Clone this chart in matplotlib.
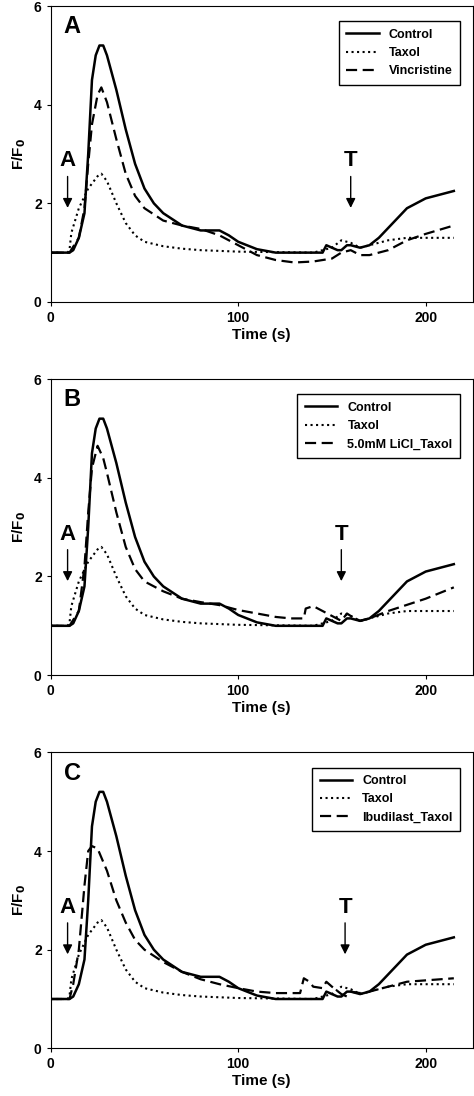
import numpy as np
import matplotlib.pyplot as plt

plt.rcParams['font.family'] = ['Liberation Sans', 'DejaVu Sans']
plt.rcParams['font.weight'] = 'bold'

# control trace, same in all panels
ctrl_t = [0, 10, 12, 15, 18, 20, 22, 24, 26, 28, 30, 35, 40, 45, 50, 55, 60, 70, 80, 90,
          95, 100, 110, 120, 130, 140, 145, 147, 150, 153, 155, 158, 160, 165, 170, 175,
          180, 190, 200, 210, 215]
ctrl_y = [1.0, 1.0, 1.05, 1.3, 1.8, 3.0, 4.5, 5.0, 5.2, 5.2, 5.0, 4.3, 3.5, 2.8, 2.3, 2.0,
          1.8, 1.55, 1.45, 1.45, 1.35, 1.22, 1.07, 1.0, 1.0, 1.0, 1.0, 1.15, 1.1, 1.05, 1.05,
          1.15, 1.15, 1.1, 1.15, 1.3, 1.5, 1.9, 2.1, 2.2, 2.25]

taxol_t = [0, 9, 10, 11, 15, 20, 25, 27, 30, 35, 40, 45, 50, 60, 70, 80, 100, 140, 150,
           155, 160, 165, 170, 180, 190, 215]
taxol_y = [1.0, 1.0, 1.05, 1.4, 1.9, 2.3, 2.55, 2.6, 2.45, 2.0, 1.6, 1.35, 1.22, 1.13,
           1.08, 1.05, 1.02, 1.0, 1.1, 1.25, 1.2, 1.1, 1.15, 1.25, 1.3, 1.3]

vinc_t = [0, 10, 15, 18, 20, 22, 25, 27, 30, 35, 40, 45, 50, 60, 70, 80, 90, 100, 110,
          120, 130, 140, 150, 155, 160, 165, 170, 180, 190, 200, 215]
vinc_y = [1.0, 1.0, 1.3, 1.9, 2.8, 3.6, 4.2, 4.35, 4.05, 3.3, 2.6, 2.15, 1.9, 1.65, 1.55,
          1.48, 1.35, 1.15, 0.95, 0.85, 0.8, 0.82, 0.88, 1.0, 1.05, 0.95, 0.95, 1.05, 1.25,
          1.38, 1.55]

licl_t = [0, 10, 15, 18, 20, 22, 25, 28, 30, 35, 40, 45, 50, 60, 70, 80, 90, 100, 110,
          120, 128, 135, 136, 140, 145, 150, 155, 158, 160, 165, 170, 180, 200, 215]
licl_y = [1.0, 1.0, 1.3, 2.2, 3.3, 4.2, 4.65, 4.4, 4.1, 3.3, 2.6, 2.15, 1.9, 1.7, 1.55,
          1.48, 1.42, 1.32, 1.25, 1.18, 1.15, 1.15, 1.35, 1.4, 1.3, 1.2, 1.1, 1.25, 1.2,
          1.1, 1.15, 1.3, 1.55, 1.78]

ibud_t = [0, 10, 12, 15, 18, 20, 22, 25, 30, 35, 40, 45, 50, 60, 70, 80, 90, 100, 110,
          120, 133, 135, 138, 140, 145, 147, 150, 155, 158, 160, 165, 170, 180, 190, 215]
ibud_y = [1.0, 1.0, 1.3, 2.0, 3.3, 4.0, 4.1, 4.05, 3.6, 3.0, 2.55, 2.2, 2.0, 1.75, 1.55,
          1.4, 1.3, 1.22, 1.15, 1.12, 1.12, 1.42, 1.35, 1.25, 1.22, 1.35, 1.25, 1.1, 1.05,
          1.15, 1.12, 1.15, 1.25, 1.35, 1.42]

panels = [
    ("A", "Vincristine", vinc_t, vinc_y, 160, 0.7245),
    ("B", "5.0mM LiCl_Taxol", licl_t, licl_y, 155, 0.384),
    ("C", "Ibudilast_Taxol", ibud_t, ibud_y, 157, 0.0435),
]

fig = plt.figure(figsize=(4.74, 10.96), dpi=100)

for letter, name, tt, yy, t_arrow, bottom in panels:
    ax = fig.add_axes([0.107, bottom, 0.89, 0.27])
    ax.plot(ctrl_t, ctrl_y, "k-", lw=1.8, label="Control")
    ax.plot(taxol_t, taxol_y, "k:", lw=1.5, label="Taxol")
    ax.plot(tt, yy, "k--", lw=1.6, dashes=(5, 2.5), label=name)
    ax.set_xlim(0, 225)
    ax.set_ylim(0, 6)
    ax.set_xticks([0, 100, 200])
    ax.set_yticks([0, 2, 4, 6])
    ax.tick_params(labelsize=10, length=3)
    ax.set_xlabel("Time (s)", fontsize=11, fontweight="bold", labelpad=2)
    ax.set_ylabel("F/F$_\\mathbf{0}$", fontsize=11, fontweight="bold")
    ax.text(7, 5.45, letter, fontsize=17, fontweight="bold")
    # agonist and T arrows
    ax.annotate("", xy=(9, 1.85), xytext=(9, 2.6),
                arrowprops=dict(arrowstyle="-|>", color="k", lw=1, mutation_scale=14))
    ax.text(9, 2.75, "A", fontsize=16, fontweight="bold", ha="center")
    ax.annotate("", xy=(t_arrow, 1.85), xytext=(t_arrow, 2.6),
                arrowprops=dict(arrowstyle="-|>", color="k", lw=1, mutation_scale=14))
    ax.text(t_arrow, 2.75, "T", fontsize=16, fontweight="bold", ha="center")
    leg = ax.legend(loc="upper right", bbox_to_anchor=(0.985, 0.97), fontsize=9,
                    fancybox=False, edgecolor="k", framealpha=1, handlelength=2.6,
                    borderpad=0.6)
    leg.get_frame().set_linewidth(1)

fig.savefig("out.png", dpi=100)
